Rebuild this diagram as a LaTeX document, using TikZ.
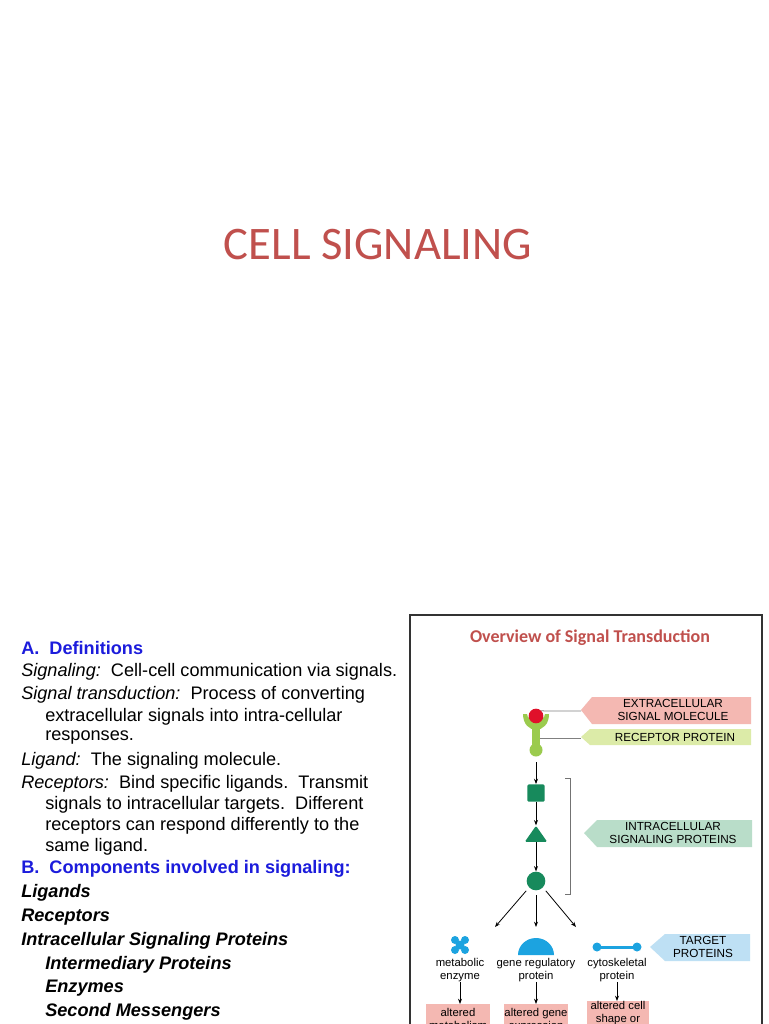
\documentclass[tikz,border=0pt]{standalone}
\usepackage{fontspec}
\setmainfont{Liberation Sans}
\newfontfamily\calib{Carlito}
\usetikzlibrary{arrows.meta,shapes.geometric}
\definecolor{titred}{HTML}{C0504D}
\definecolor{hblue}{HTML}{1C1CDC}
\definecolor{pinkl}{HTML}{F4B8B2}
\definecolor{yg}{HTML}{DCEBA8}
\definecolor{mint}{HTML}{B9DDC9}
\definecolor{sky}{HTML}{BEE0F4}
\definecolor{rgreen}{HTML}{9BCB4E}
\definecolor{dgreen}{HTML}{178A5C}
\definecolor{tblue}{HTML}{1CA3E0}
\definecolor{rred}{HTML}{E0102A}
\tikzset{
 body/.style={anchor=west,inner sep=0pt,font=\fontsize{13.6}{15}\selectfont},
 head/.style={body,text=hblue,font=\fontsize{13.6}{15}\selectfont\bfseries},
 arr/.style={-{Stealth[length=4pt,width=3pt]},line width=0.6pt},
 lab/.style={align=center,font=\fontsize{8.5}{9.5}\selectfont,inner sep=0pt},
 tag/.style={align=center,font=\fontsize{8.8}{10}\selectfont,inner sep=0pt},
 resbox/.style={fill=pinkl,minimum width=48pt,minimum height=22pt,anchor=north,inner sep=0pt,align=center,font=\fontsize{8.5}{9.5}\selectfont,text depth=0pt},
}
\begin{document}
\begin{tikzpicture}[x=0.75pt,y=-0.75pt]
\useasboundingbox (0,0) rectangle (768,1024);
\clip (0,0) rectangle (768,1024);
\fill[white] (0,0) rectangle (768,1024);
\node[text=titred,font=\calib\fontsize{35}{40}\selectfont] (title) at (378,245) {CELL SIGNALING};
% left text
\node[head] (a) at (21,648) {A.\ \ Definitions};
\node[body] (l1) at (21,672) {\textit{Signaling:}\ \ Cell-cell communication via signals.};
\node[body] (l2) at (21,695) {\textit{Signal transduction:}\ \ Process of converting};
\node[body] (l3) at (45,717) {extracellular signals into intra-cellular};
\node[body] (l4) at (45,737) {responses.};
\node[body] (l5) at (21,761) {\textit{Ligand:}\ \ The signaling molecule.};
\node[body] (l6) at (21,784) {\textit{Receptors:}\ \ Bind specific ligands.\ \ Transmit};
\node[body] (l7) at (45,805) {signals to intracellular targets.\ \ Different};
\node[body] (l8) at (45,826) {receptors can respond differently to the};
\node[body] (l9) at (45,847) {same ligand.};
\node[head] (b) at (21,869) {B.\ \ Components involved in signaling:};
\node[body] (m1) at (21,893) {\textit{\bfseries Ligands}};
\node[body] (m2) at (21,917) {\textit{\bfseries Receptors}};
\node[body] (m3) at (21,941) {\textit{\bfseries Intracellular Signaling Proteins}};
\node[body] (m4) at (45,965) {\textit{\bfseries Intermediary Proteins}};
\node[body] (m5) at (45,988) {\textit{\bfseries Enzymes}};
\node[body] (m6) at (45,1012) {\textit{\bfseries Second Messengers}};
% frame
\draw[line width=0.8pt,draw=black!80] (410,615) rectangle (762,1030);
\node[text=titred,font=\calib\bfseries\fontsize{13.5}{15}\selectfont] (ot) at (590,638) {Overview of Signal Transduction};
% label tags
\fill[pinkl] (581,710) -- (592,697) -- (751,697) -- (751,724) -- (592,724) -- cycle;
\node[tag] (t1) at (673,710) {EXTRACELLULAR\\SIGNAL MOLECULE};
\fill[yg] (581,737) -- (590,729) -- (751,729) -- (751,745) -- (590,745) -- cycle;
\node[tag] (t2) at (675,737) {RECEPTOR PROTEIN};
\fill[mint] (584,833) -- (597,820) -- (752,820) -- (752,847) -- (597,847) -- cycle;
\node[tag] (t3) at (673,833) {INTRACELLULAR\\SIGNALING PROTEINS};
\fill[sky] (650,947) -- (665,934) -- (750,934) -- (750,961) -- (665,961) -- cycle;
\node[tag] (t4) at (703,947) {TARGET\\PROTEINS};
% receptor
\fill[rgreen] (523,714) .. controls (523,735) and (549,735) .. (549,714) -- (545,714) .. controls (545,722) and (527,722) .. (527,714) -- cycle;
\fill[rgreen] (532,724) rectangle (540,746);
\fill[rgreen] (536,750) circle (6.5);
\node[circle,fill=rred,minimum size=11pt,inner sep=0pt] (lig) at (536,716) {};
\coordinate (rec) at (540,738);
\draw[black!50,line width=0.6pt] (lig.north east) -- (545,711) -- (581,711);
\draw[black!50,line width=0.6pt] (rec) -- (581,738);
% intracellular
\node[fill=dgreen,rounded corners=1pt,minimum size=13pt,inner sep=0pt] (sq) at (536,793) {};
\node[fill=dgreen,isosceles triangle,shape border rotate=90,isosceles triangle apex angle=70,minimum height=12pt,inner sep=0pt,rounded corners=1pt] (tri) at (536,836) {};
\node[fill=dgreen,circle,minimum size=14pt,inner sep=0pt] (ci) at (536,881) {};
\coordinate (rb) at (536,762);
\draw[arr] (rb) -- (sq);
\draw[arr] (sq) -- (tri);
\draw[arr] (tri) -- (ci);
\draw[black!55,line width=0.6pt] (565,778) -- (570,778) -- (570,894) -- (565,894);
% branches
\coordinate (b1) at (495,927); \coordinate (b2) at (536,927); \coordinate (b3) at (576,927);
\draw[arr] (ci.south west) ++(-3,3) -- (b1);
\draw[arr] (ci) ++(0,14) -- (b2);
\draw[arr] (ci.south east) ++(3,3) -- (b3);
% targets
\begin{scope}[tblue]
\fill (460,945) circle (4.5);
\foreach \dx/\dy in {-5/-5,5/-5,-5/5,5/5} \fill (460+\dx,945+\dy) circle (4);
\end{scope}
\node[inner sep=0pt,minimum size=1pt] (enz) at (460,945) {};
\fill[tblue] (518,955) arc (180:360:18 and 17) -- cycle;
\node[inner sep=0pt] (gr) at (536,946) {};
\fill[tblue] (597,947) circle (4.5); \fill[tblue] (637,947) circle (4.5);
\fill[tblue] (597,945.5) rectangle (637,948.5);
\node[inner sep=0pt] (cy) at (617,947) {};
\node[lab] (e1) at (460,970) {metabolic\\enzyme};
\node[lab] (e2) at (536,970) {gene regulatory\\protein};
\node[lab] (e3) at (617,970) {cytoskeletal\\protein};
\node[resbox] (r1) at (458,1004) {altered\\metabolism};
\node[resbox] (r2) at (536,1004) {altered gene\\expression};
\node[resbox,minimum width=46pt] (r3) at (618,1001) {altered cell\\shape or\\movement};
\draw[arr] (e1.south) -- (e1.south |- r1.north);
\draw[arr] (e2.south) -- (e2.south |- r2.north);
\draw[arr] (e3.south) -- (e3.south |- r3.north);
\end{tikzpicture}
\end{document}
